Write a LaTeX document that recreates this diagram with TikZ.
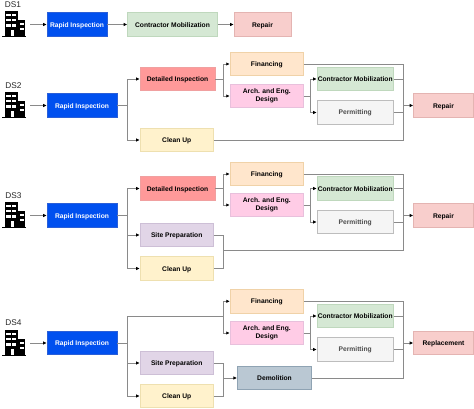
\documentclass[tikz,border=0pt]{standalone}
\usepackage{fontspec}
\setmainfont{Liberation Sans}
\usepackage{xcolor}
\usetikzlibrary{arrows.meta,positioning}
\definecolor{rapidfill}{HTML}{0050EF}
\definecolor{rapidline}{HTML}{2A5FD8}
\definecolor{detailfill}{HTML}{FF9999}
\definecolor{detailline}{HTML}{F0A0A0}
\definecolor{contrfill}{HTML}{D5E8D4}
\definecolor{contrline}{HTML}{BFD8BD}
\definecolor{repairfill}{HTML}{F8CECC}
\definecolor{repairline}{HTML}{E4B4B2}
\definecolor{cleanfill}{HTML}{FFF2CC}
\definecolor{cleanline}{HTML}{EEE0B0}
\definecolor{finfill}{HTML}{FFE6CC}
\definecolor{finline}{HTML}{F0D2A8}
\definecolor{archfill}{HTML}{FFCCE6}
\definecolor{archline}{HTML}{E8C0DC}
\definecolor{permfill}{HTML}{F5F5F5}
\definecolor{permline}{HTML}{BDBDBD}
\definecolor{sitefill}{HTML}{E1D5E7}
\definecolor{siteline}{HTML}{CDBFD6}
\definecolor{demofill}{HTML}{BAC8D3}
\definecolor{demoline}{HTML}{8FA3B3}
\definecolor{grayline}{HTML}{8A8A8A}
\tikzset{
	base/.style={draw, line width=0.6pt, minimum height=23.5pt, inner sep=0pt, align=center,
		font=\fontsize{6.7}{8}\selectfont\bfseries, text=black,
		execute at begin node={\rule{0pt}{6.4pt}}, execute at end node={\rule[-1.4pt]{0pt}{0pt}}},
	rapid/.style={base, fill=rapidfill, draw=rapidline, text=white},
	detail/.style={base, fill=detailfill, draw=detailline},
	contractor/.style={base, fill=contrfill, draw=contrline},
	repair/.style={base, fill=repairfill, draw=repairline},
	clean/.style={base, fill=cleanfill, draw=cleanline},
	finance/.style={base, fill=finfill, draw=finline},
	archdes/.style={base, fill=archfill, draw=archline},
	permit/.style={base, fill=permfill, draw=permline, text=black!70},
	site/.style={base, fill=sitefill, draw=siteline},
	demol/.style={base, fill=demofill, draw=demoline},
	link/.style={draw=grayline, line width=0.7pt},
	flow/.style={link, -{Latex[length=3.5pt,width=3.5pt,black]}},
	dslabel/.style={font=\fontsize{8.3}{10}\selectfont, text=black!85, inner sep=0pt},
	pics/building/.style={code={
		\fill[black] (-9,-13) rectangle (3.7,13);
		\fill[black] (3.7,-4) rectangle (10.7,13);
		\fill[black] (-12,11.5) rectangle (12,13);
		\foreach \py in {-10.5,-5.5,0}{
			\fill[white] (-7.7,\py) rectangle (-3.3,\py+2.5);
			\fill[white] (-2.2,\py) rectangle (2.3,\py+2.5);
		}
		\fill[white] (-3.4,6) rectangle (0.4,11.5);
		\fill[white] (5.5,-1.5) rectangle (9.5,0.8);
		\fill[white] (5.5,4) rectangle (9.5,6.3);
	}}
}
\begin{document}
\begin{tikzpicture}[x=1pt,y=-1pt]
	\useasboundingbox (0,0) rectangle (474,408);

	% DS1
	\node[dslabel] (ds1) at (13,5) {DS1};
	\pic at (14,24) {building};
	\coordinate (b1) at (30,24.5);
	\node[rapid, minimum width=60pt] (rapid1) at (77,24.5) {Rapid Inspection};
	\node[contractor, minimum width=90pt] (contr1) at (172.5,24.5) {Contractor Mobilization};
	\node[repair, minimum width=57pt] (repair1) at (262.5,24.5) {Repair};
	\draw[flow] (b1) -- (rapid1);
	\draw[flow] (rapid1) -- (contr1);
	\draw[flow] (contr1) -- (repair1);

	% DS2
	\node[dslabel] (ds2) at (13.5,86) {DS2};
	\pic at (14,105) {building};
	\coordinate (b2) at (30,105.5);
	\node[rapid, minimum width=70pt] (rapid2) at (82,105.5) {Rapid Inspection};
	\node[detail, minimum width=75pt] (detail2) at (177.5,79) {Detailed Inspection};
	\node[clean, minimum width=73.5pt] (clean2) at (176.7,140) {Clean Up};
	\node[finance, minimum width=73.5pt] (fin2) at (266.8,64) {Financing};
	\node[archdes, minimum width=73.5pt] (arch2) at (266.8,96) {Arch. and Eng.\\Design};
	\node[contractor, minimum width=76.5pt] (contr2) at (355.2,79) {Contractor Mobilization};
	\node[permit, minimum width=76.5pt] (perm2) at (355.2,112.5) {Permitting};
	\node[repair, minimum width=60pt] (repair2) at (443.5,105.5) {Repair};
	\coordinate (t2) at (127,105.5);
	\coordinate (d2) at (223.5,79);
	\coordinate (a2) at (310.3,96);
	\coordinate (m2) at (403.7,105.5);
	\draw[flow] (b2) -- (rapid2);
	\draw[link] (rapid2) -- (t2);
	\draw[flow] (t2) |- (detail2);
	\draw[flow] (t2) |- (clean2);
	\draw[link] (detail2) -- (d2);
	\draw[flow] (d2) |- (fin2);
	\draw[flow] (d2) |- (arch2);
	\draw[link] (arch2) -- (a2);
	\draw[flow] (a2) |- (contr2);
	\draw[flow] (a2) |- (perm2);
	\draw[link] (fin2) -| (m2);
	\draw[link] (contr2) -| (m2);
	\draw[link] (perm2) -| (m2);
	\draw[link] (clean2) -| (m2);
	\draw[flow] (m2) -- (repair2);

	% DS3
	\node[dslabel] (ds3) at (13.5,195.6) {DS3};
	\pic at (14,215) {building};
	\coordinate (b3) at (30,215.5);
	\node[rapid, minimum width=70pt] (rapid3) at (82,215.5) {Rapid Inspection};
	\node[detail, minimum width=75pt] (detail3) at (177.5,188.5) {Detailed Inspection};
	\node[site, minimum width=73.5pt] (site3) at (176.7,235) {Site Preparation};
	\node[clean, minimum width=73.5pt] (clean3) at (176.7,268.5) {Clean Up};
	\node[finance, minimum width=73.5pt] (fin3) at (266.8,174) {Financing};
	\node[archdes, minimum width=73.5pt] (arch3) at (266.8,205) {Arch. and Eng.\\Design};
	\node[contractor, minimum width=76.5pt] (contr3) at (355.2,188.5) {Contractor Mobilization};
	\node[permit, minimum width=76.5pt] (perm3) at (355.2,222) {Permitting};
	\node[repair, minimum width=60pt] (repair3) at (443.5,215.5) {Repair};
	\coordinate (t3) at (127,215.5);
	\coordinate (d3) at (223.5,188.5);
	\coordinate (s3) at (223.5,250);
	\coordinate (a3) at (310.3,205);
	\coordinate (m3) at (403.7,215.5);
	\draw[flow] (b3) -- (rapid3);
	\draw[link] (rapid3) -- (t3);
	\draw[flow] (t3) |- (detail3);
	\draw[flow] (t3) |- (site3);
	\draw[flow] (t3) |- (clean3);
	\draw[link] (detail3) -- (d3);
	\draw[flow] (d3) |- (fin3);
	\draw[flow] (d3) |- (arch3);
	\draw[link] (arch3) -- (a3);
	\draw[flow] (a3) |- (contr3);
	\draw[flow] (a3) |- (perm3);
	\draw[link] (site3) -| (s3);
	\draw[link] (clean3) -| (s3);
	\draw[link] (s3) -| (m3);
	\draw[link] (fin3) -| (m3);
	\draw[link] (contr3) -| (m3);
	\draw[link] (perm3) -| (m3);
	\draw[flow] (m3) -- (repair3);

	% DS4
	\node[dslabel] (ds4) at (13.5,323) {DS4};
	\pic at (14,343) {building};
	\coordinate (b4) at (30,343);
	\node[rapid, minimum width=70pt] (rapid4) at (82,343) {Rapid Inspection};
	\node[site, minimum width=73.5pt] (site4) at (176.7,363) {Site Preparation};
	\node[clean, minimum width=73.5pt] (clean4) at (176.7,396) {Clean Up};
	\node[finance, minimum width=73.5pt] (fin4) at (266.8,301.3) {Financing};
	\node[archdes, minimum width=73.5pt] (arch4) at (266.8,333) {Arch. and Eng.\\Design};
	\node[demol, minimum width=74.5pt] (demo4) at (274.5,378) {Demolition};
	\node[contractor, minimum width=76.5pt] (contr4) at (355.2,316) {Contractor Mobilization};
	\node[permit, minimum width=76.5pt] (perm4) at (355.2,349.5) {Permitting};
	\node[repair, minimum width=60pt] (repair4) at (443.5,343) {Replacement};
	\coordinate (t4) at (127,343);
	\coordinate (u4) at (127,316.3);
	\coordinate (d4) at (223.5,316.3);
	\coordinate (s4) at (223.5,378);
	\coordinate (a4) at (310.3,333);
	\coordinate (m4) at (403.7,343);
	\draw[flow] (b4) -- (rapid4);
	\draw[link] (rapid4) -- (t4);
	\draw[link] (t4) -- (u4) -- (d4);
	\draw[flow] (t4) |- (site4);
	\draw[flow] (t4) |- (clean4);
	\draw[flow] (d4) |- (fin4);
	\draw[flow] (d4) |- (arch4);
	\draw[link] (arch4) -- (a4);
	\draw[flow] (a4) |- (contr4);
	\draw[flow] (a4) |- (perm4);
	\draw[link] (site4) -| (s4);
	\draw[link] (clean4) -| (s4);
	\draw[flow] (s4) -- (demo4);
	\draw[link] (fin4) -| (m4);
	\draw[link] (contr4) -| (m4);
	\draw[link] (perm4) -| (m4);
	\draw[link] (demo4) -| (m4);
	\draw[flow] (m4) -- (repair4);
\end{tikzpicture}
\end{document}
